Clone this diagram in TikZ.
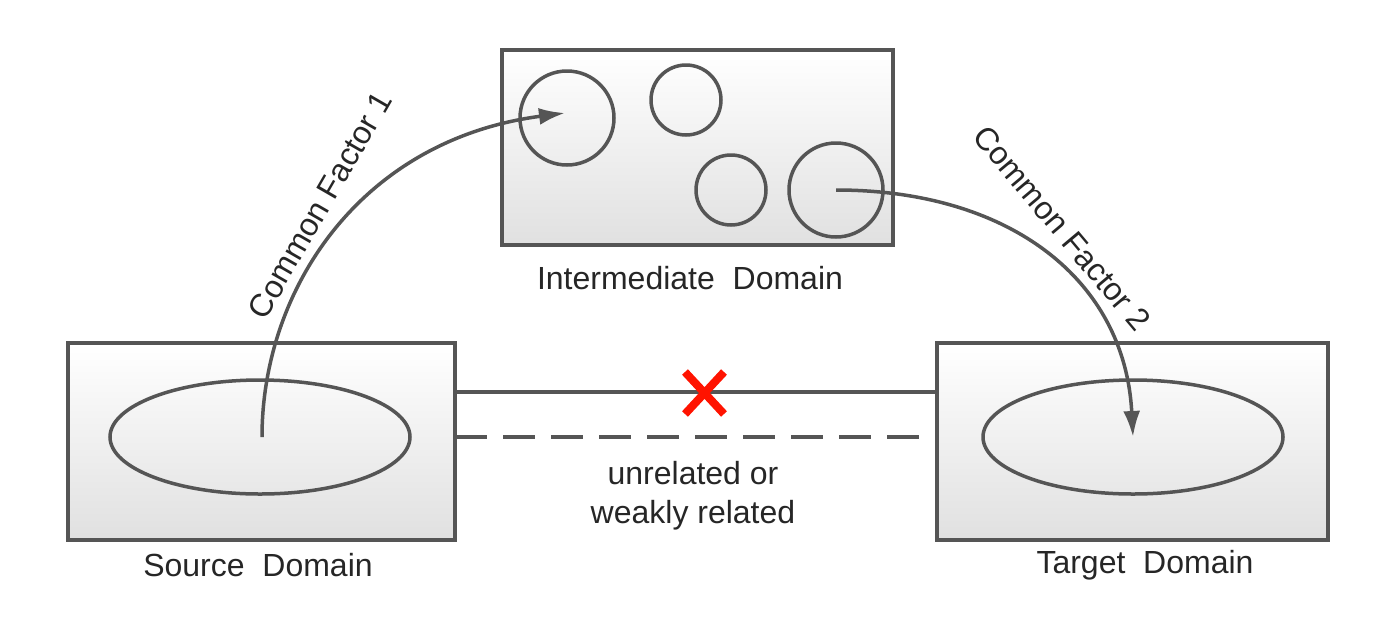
\documentclass[tikz,border=0pt]{standalone}
\usepackage{fontspec}
\setmainfont{Liberation Sans}
\usetikzlibrary{arrows.meta,shapes.geometric}
\definecolor{ln}{HTML}{555555}
\begin{document}
\begin{tikzpicture}[x=1pt,y=-1pt,
  dom/.style={draw=ln,line width=3.5pt,top color=white,bottom color=black!12},
  shp/.style={draw=ln,line width=3.5pt},
  lbl/.style={font=\fontsize{32}{36}\selectfont,text=black!85},
  arr/.style={draw=ln,line width=3.5pt,-{Latex[length=26pt,width=17pt]}}]
\useasboundingbox (0,0) rectangle (1379,630);
\path[dom] (502,50) rectangle (893,245);
\path[dom] (68,343) rectangle (455,540);
\path[dom] (937,343) rectangle (1328,540);
\node[shp,ellipse,minimum width=300pt,minimum height=114pt] (se) at (260,437) {};
\node[shp,ellipse,minimum width=300pt,minimum height=114pt] (te) at (1133,437) {};
\node[shp,circle,minimum size=94pt] (c1) at (567,118) {};
\node[shp,circle,minimum size=70pt] (c2) at (686,100) {};
\node[shp,circle,minimum size=70pt] (c3) at (731,190) {};
\node[shp,circle,minimum size=94pt] (c4) at (836,190) {};
\draw[shp] (455,392) -- (937,392);
\draw[shp,dash pattern=on 32pt off 16pt] (455,437) -- (937,437);
\draw[red!85!orange,line width=8pt] (685,372) -- (724,414) (724,372) -- (685,414);
\draw[arr] (262,437) .. controls (262,290) and (360,140) .. (565,113);
\draw[arr] (836,190) .. controls (1010,190) and (1125,280) .. (1133,437);
\node[lbl,rotate=60] at (320,205) {Common Factor 1};
\node[lbl,rotate=-50] at (1062,228) {Common Factor 2};
\node[lbl] at (690,278) {Intermediate\ \ Domain};
\node[lbl] at (258,565) {Source\ \ Domain};
\node[lbl] at (1145,565) {Target\ \ Domain};
\node[lbl] at (693,473) {unrelated or};
\node[lbl] at (693,515) {weakly related};
\end{tikzpicture}
\end{document}
